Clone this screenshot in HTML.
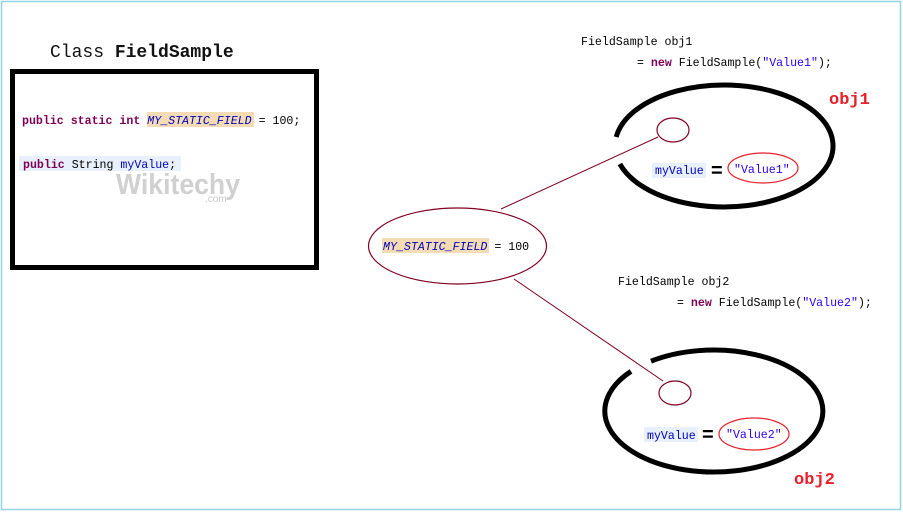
<!DOCTYPE html>
<html><head><meta charset="utf-8"><style>
body{margin:0;background:#fff}
svg{display:block}
.m{font-family:"Liberation Mono",monospace;font-size:11.6px}
</style></head><body>
<svg width="903" height="514" viewBox="0 0 903 514" xmlns="http://www.w3.org/2000/svg">
<rect x="1.5" y="1.5" width="899" height="508" fill="#fff" stroke="#92d5e6" stroke-width="1.5"/>
<text x="50" y="57" font-family="Liberation Mono,monospace" font-size="18" fill="#111">Class <tspan font-weight="bold">FieldSample</tspan></text>
<rect x="12.5" y="71.5" width="304" height="196" fill="none" stroke="#000" stroke-width="5"/>
<!-- watermark -->
<text x="116" y="194" font-family="Liberation Sans,sans-serif" font-size="29" font-weight="bold" fill="#d0d0d0" textLength="124" lengthAdjust="spacingAndGlyphs">Wikitechy</text>
<text x="205" y="202" font-family="Liberation Sans,sans-serif" font-size="10" fill="#c8c8c8">.com</text>
<rect x="147" y="112" width="107" height="15" fill="#f3dcb4"/>
<text class="m" x="22" y="124"><tspan fill="#7f0055" font-weight="bold">public static int </tspan><tspan fill="#0000c0" font-style="italic">MY_STATIC_FIELD</tspan><tspan fill="#000"> = 100;</tspan></text>
<rect x="19" y="156" width="162" height="15" fill="#e8f0fb"/>
<text class="m" x="23" y="168"><tspan fill="#7f0055" font-weight="bold">public </tspan><tspan fill="#000">String </tspan><tspan fill="#0000c0">myValue</tspan><tspan fill="#000">;</tspan></text>

<!-- middle -->
<line x1="501" y1="209" x2="658" y2="137" stroke="#800020" stroke-width="1"/>
<line x1="514" y1="279" x2="663" y2="381" stroke="#800020" stroke-width="1"/>
<ellipse cx="457.5" cy="246" rx="89" ry="38" fill="#fff" stroke="#800020" stroke-width="1.2"/>
<rect x="382" y="238" width="107" height="15" fill="#f3dcb4"/>
<text class="m" x="383" y="250"><tspan fill="#0000c0" font-style="italic">MY_STATIC_FIELD</tspan><tspan fill="#000"> = 100</tspan></text>

<!-- obj1 -->
<text class="m" x="581" y="45" fill="#000">FieldSample obj1</text>
<text class="m" x="637" y="66"><tspan fill="#000">= </tspan><tspan fill="#7f0055" font-weight="bold">new </tspan><tspan fill="#000">FieldSample(</tspan><tspan fill="#2a00ff">"Value1"</tspan><tspan fill="#000">);</tspan></text>
<path d="M616.2,137 A109,61 0 1 1 619.9,164" fill="none" stroke="#000" stroke-width="5"/>
<text x="829" y="104" font-family="Liberation Mono,monospace" font-size="17" font-weight="bold" fill="#e8202a">obj1</text>
<ellipse cx="673" cy="130" rx="16" ry="12" fill="none" stroke="#800020" stroke-width="1.2"/>
<rect x="652" y="163" width="54" height="15" fill="#e8f0fb"/>
<text class="m" x="655" y="174" fill="#0000c0">myValue</text>
<text x="711" y="177" font-family="Liberation Sans,sans-serif" font-size="20" font-weight="bold" fill="#000">=</text>
<ellipse cx="763" cy="168" rx="35" ry="15" fill="none" stroke="#e8202a" stroke-width="1.2"/>
<text class="m" x="734" y="173" fill="#2a00ff">"Value1"</text>

<!-- obj2 -->
<text class="m" x="618" y="285" fill="#000">FieldSample obj2</text>
<text class="m" x="677" y="306"><tspan fill="#000">= </tspan><tspan fill="#7f0055" font-weight="bold">new </tspan><tspan fill="#000">FieldSample(</tspan><tspan fill="#2a00ff">"Value2"</tspan><tspan fill="#000">);</tspan></text>
<path d="M651,361.2 A109,61 0 1 1 631,371.4" fill="none" stroke="#000" stroke-width="5"/>
<text x="794" y="484" font-family="Liberation Mono,monospace" font-size="17" font-weight="bold" fill="#e8202a">obj2</text>
<ellipse cx="675" cy="393" rx="16" ry="12" fill="none" stroke="#800020" stroke-width="1.2"/>
<rect x="644" y="427" width="54" height="15" fill="#e8f0fb"/>
<text class="m" x="647" y="439" fill="#0000c0">myValue</text>
<text x="702" y="441" font-family="Liberation Sans,sans-serif" font-size="20" font-weight="bold" fill="#000">=</text>
<ellipse cx="754" cy="434" rx="35" ry="16" fill="none" stroke="#e8202a" stroke-width="1.2"/>
<text class="m" x="726" y="438" fill="#2a00ff">"Value2"</text>
</svg>
</body></html>
